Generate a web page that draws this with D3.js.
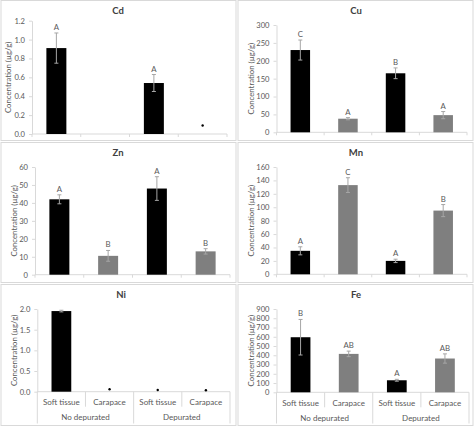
<!DOCTYPE html>
<html>
<head>
<meta charset="utf-8">
<script src="https://cdn.jsdelivr.net/npm/d3@7"></script>
<style>
  html, body { margin: 0; padding: 0; background: #fff; }
  svg { display: block; font-family: Lato, "Open Sans", "Liberation Sans", sans-serif; }
</style>
</head>
<body>
<svg id="chart" width="474" height="426"></svg>
<script>
// ---- data ----
const categories = ["Soft tissue", "Carapace", "Soft tissue", "Carapace"];
const groups = ["No depurated", "Depurated"];
const metals = ["Cd", "Cu", "Zn", "Mn", "Ni", "Fe"];

const cdValues = [0.91, null, 0.54, null];
const cdErrors = [0.16, null, 0.09, null];
const cdLetters = ["A", "", "A", ""];
const cdDots = [null, null, null, 0.09];

const cuValues = [230, 38, 165, 48];
const cuErrors = [28, 3, 15, 10];
const cuLetters = ["C", "A", "B", "A"];

const znValues = [42, 10.5, 48, 13];
const znErrors = [2.5, 3, 6.6, 1.5];
const znLetters = ["A", "B", "A", "B"];

const mnValues = [35, 133, 20, 95];
const mnErrors = [6, 11, 2.5, 9];
const mnLetters = ["A", "C", "A", "B"];

const niValues = [1.95, null, null, null];
const niErrors = [0.02, null, null, null];
const niLetters = ["", "", "", ""];
const niDots = [null, 0.06, 0.04, 0.035];

const feValues = [595, 415, 130, 365];
const feErrors = [192, 30, 10, 50];
const feLetters = ["B", "AB", "A", "AB"];

const yMaxes = [1.2, 300, 60, 160, 2.0, 900];
const ySteps = [0.2, 50, 10, 20, 0.5, 100];
const yLabel = "Concentration (µg/g)";

// ---- layout (positions only) ----
const layout = [
  { box: [1, 0.5, 235, 140], x0: 32, x1: 227, y0: 134, y1: 20.7, tx: 118, ty: 12, lx: 9, multi: false },
  { box: [238, 0.5, 235, 140], x0: 276.5, x1: 467, y0: 132.3, y1: 25, tx: 356, ty: 12, lx: 252, multi: false },
  { box: [1, 142.5, 235, 140], x0: 35, x1: 230, y0: 274.7, y1: 167, tx: 118, ty: 154, lx: 15, multi: false },
  { box: [238, 142.5, 235, 140], x0: 276.5, x1: 467, y0: 274.3, y1: 167, tx: 356, ty: 154, lx: 252, multi: false },
  { box: [1, 284.5, 235, 141], x0: 37.3, x1: 230, y0: 391.7, y1: 309, tx: 121, ty: 296, lx: 15, multi: true },
  { box: [238, 284.5, 235, 141], x0: 276.5, x1: 469, y0: 392.3, y1: 309, tx: 356, ty: 296, lx: 252, multi: true }
];

const panelData = [
  { values: cdValues, errors: cdErrors, letters: cdLetters, dots: cdDots, fmt: d3.format(".1f") },
  { values: cuValues, errors: cuErrors, letters: cuLetters, dots: null, fmt: d3.format("d") },
  { values: znValues, errors: znErrors, letters: znLetters, dots: null, fmt: d3.format("d") },
  { values: mnValues, errors: mnErrors, letters: mnLetters, dots: null, fmt: d3.format("d") },
  { values: niValues, errors: niErrors, letters: niLetters, dots: niDots, fmt: d3.format(".1f") },
  { values: feValues, errors: feErrors, letters: feLetters, dots: null, fmt: d3.format("d") }
];

const barColors = ["#000000", "#7f7f7f", "#000000", "#7f7f7f"];
const lineColor = "#d9d9d9";
const textColor = "#595959";
const errColor = "#a6a6a6";

const svg = d3.select("#chart");

metals.forEach((metal, k) => {
  const L = layout[k];
  const D = panelData[k];
  const g = svg.append("g");

  // panel border
  g.append("rect")
    .attr("x", L.box[0]).attr("y", L.box[1])
    .attr("width", L.box[2]).attr("height", L.box[3])
    .attr("fill", "#fff").attr("stroke", lineColor).attr("stroke-width", 1);

  // title
  g.append("text").attr("x", L.tx).attr("y", L.ty)
    .attr("text-anchor", "middle").attr("dominant-baseline", "middle")
    .attr("font-size", 9.5).attr("font-weight", 700).attr("fill", "#404040")
    .text(metal);

  const x = d3.scaleBand().domain(d3.range(categories.length)).range([L.x0, L.x1]).padding(0);
  const y = d3.scaleLinear().domain([0, yMaxes[k]]).range([L.y0, L.y1]);
  const barW = x.bandwidth() * 0.41;

  // y axis
  const ticks = d3.range(0, yMaxes[k] + ySteps[k] / 2, ySteps[k]);
  const yAxis = g.append("g").attr("transform", `translate(${L.x0},0)`)
    .call(d3.axisLeft(y).tickValues(ticks).tickFormat(D.fmt).tickSizeInner(3).tickSizeOuter(0).tickPadding(4));
  yAxis.select(".domain").attr("stroke", lineColor);
  yAxis.selectAll(".tick line").attr("stroke", lineColor);
  yAxis.selectAll(".tick text").attr("fill", textColor).attr("font-size", 7.6)
    .attr("font-family", "Lato, 'Open Sans', sans-serif");

  // y label
  g.append("text")
    .attr("transform", `translate(${L.lx},${(L.y0 + L.y1) / 2}) rotate(-90)`)
    .attr("text-anchor", "middle").attr("dominant-baseline", "middle")
    .attr("font-size", 7.8).attr("fill", textColor)
    .text(yLabel);

  // x axis line
  g.append("line").attr("x1", L.x0).attr("x2", L.x1)
    .attr("y1", y(0)).attr("y2", y(0)).attr("stroke", lineColor);

  const bounds = d3.range(categories.length + 1).map(i => i < categories.length ? x(i) : x(categories.length - 1) + x.bandwidth());
  if (!L.multi) {
    g.selectAll(null).data(bounds).join("line")
      .attr("x1", d => d).attr("x2", d => d)
      .attr("y1", y(0)).attr("y2", y(0) + 3)
      .attr("stroke", lineColor);
  } else {
    const bottom = L.box[1] + L.box[3] - 2;
    g.selectAll(null).data(bounds).join("line")
      .attr("x1", d => d).attr("x2", d => d)
      .attr("y1", y(0))
      .attr("y2", (d, i) => (i % 2 === 0) ? bottom : y(0) + 15)
      .attr("stroke", lineColor);
    g.selectAll(null).data(categories).join("text")
      .attr("x", (d, i) => x(i) + x.bandwidth() / 2)
      .attr("y", y(0) + 11.5)
      .attr("text-anchor", "middle").attr("dominant-baseline", "middle")
      .attr("font-size", 8).attr("fill", textColor)
      .text(d => d);
    g.selectAll(null).data(groups).join("text")
      .attr("x", (d, i) => x(i * 2) + x.bandwidth())
      .attr("y", y(0) + 26.5)
      .attr("text-anchor", "middle").attr("dominant-baseline", "middle")
      .attr("font-size", 8).attr("fill", textColor)
      .text(d => d);
  }

  const idx = d3.range(categories.length).filter(i => D.values[i] != null);

  // bars
  g.selectAll(null).data(idx).join("rect")
    .attr("x", i => x(i) + (x.bandwidth() - barW) / 2)
    .attr("y", i => y(D.values[i]))
    .attr("width", barW)
    .attr("height", i => y(0) - y(D.values[i]))
    .attr("fill", i => barColors[i]);

  // error bars
  const eb = g.selectAll(null).data(idx.filter(i => D.errors[i] != null)).join("g");
  eb.append("line")
    .attr("x1", i => x(i) + x.bandwidth() / 2).attr("x2", i => x(i) + x.bandwidth() / 2)
    .attr("y1", i => y(D.values[i] + D.errors[i])).attr("y2", i => y(Math.max(0, D.values[i] - D.errors[i])))
    .attr("stroke", errColor).attr("stroke-width", 1);
  eb.append("line")
    .attr("x1", i => x(i) + x.bandwidth() / 2 - 2).attr("x2", i => x(i) + x.bandwidth() / 2 + 2)
    .attr("y1", i => y(D.values[i] + D.errors[i])).attr("y2", i => y(D.values[i] + D.errors[i]))
    .attr("stroke", errColor).attr("stroke-width", 1);
  eb.append("line")
    .attr("x1", i => x(i) + x.bandwidth() / 2 - 2).attr("x2", i => x(i) + x.bandwidth() / 2 + 2)
    .attr("y1", i => y(Math.max(0, D.values[i] - D.errors[i]))).attr("y2", i => y(Math.max(0, D.values[i] - D.errors[i])))
    .attr("stroke", errColor).attr("stroke-width", 1);

  // letters
  g.selectAll(null).data(idx.filter(i => D.letters[i])).join("text")
    .attr("x", i => x(i) + x.bandwidth() / 2)
    .attr("y", i => y(D.values[i] + (D.errors[i] || 0)) - 3)
    .attr("text-anchor", "middle")
    .attr("font-size", 7.8).attr("fill", textColor)
    .text(i => D.letters[i]);

  // dots (non-detected markers)
  if (D.dots) {
    const di = d3.range(categories.length).filter(i => D.dots[i] != null);
    g.selectAll(null).data(di).join("circle")
      .attr("cx", i => x(i) + x.bandwidth() / 2)
      .attr("cy", i => y(D.dots[i]))
      .attr("r", 1.2).attr("fill", "#000");
  }
});
</script>
</body>
</html>
